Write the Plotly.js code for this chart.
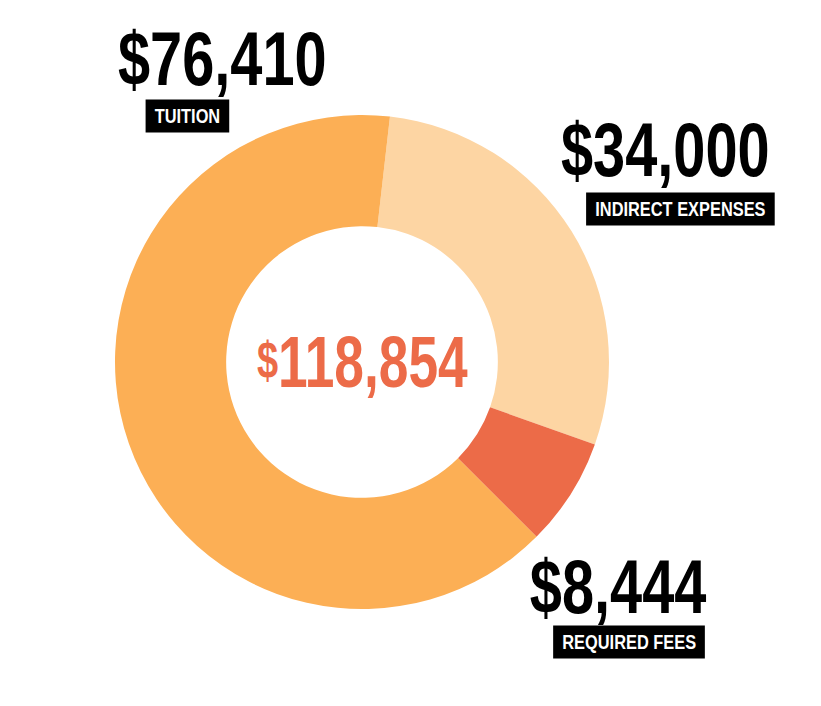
<!DOCTYPE html>
<html>
<head>
<meta charset="utf-8">
<script src="https://cdn.plot.ly/plotly-3.0.1.min.js"></script>
<style>
  html, body { margin: 0; padding: 0; background: #fff; }
  #chart { width: 821px; height: 706px; }
</style>
</head>
<body>
<div id="chart"></div>
<script>
// cost components (clockwise from just right of 12 o'clock)
var categories = ['INDIRECT EXPENSES', 'REQUIRED FEES', 'TUITION'];
var amounts = [34000, 8444, 76410];
var sliceColors = ['#FDD5A3', '#EC6B48', '#FCAF55'];

var W = 821, H = 706;
function px(x) { return x / W; }
function py(y) { return 1 - y / H; }
function money(v) { return '$' + v.toLocaleString('en-US'); }

var total = amounts.reduce(function (a, b) { return a + b; }, 0);

var cx = 362, cy = 362, r = 247;

var trace = {
  type: 'pie',
  labels: categories,
  values: amounts,
  marker: { colors: sliceColors, line: { width: 0 } },
  hole: 0.55,
  sort: false,
  direction: 'clockwise',
  rotation: 6.5,
  textinfo: 'none',
  hoverinfo: 'label+value',
  domain: { x: [px(cx - r), px(cx + r)], y: [py(cy + r), py(cy - r)] }
};

var face = 'Liberation Sans, Arial, sans-serif';
var bigFont = { family: face, size: 76, color: '#000' };
var tagFont = { family: face, size: 20, color: '#fff' };

// label placement in pixels: [value x, value y, tag x, tag y]
var spots = {
  'TUITION': [222, 58, 187, 116],
  'INDIRECT EXPENSES': [665, 150, 680, 209],
  'REQUIRED FEES': [618, 586, 629, 642]
};

// the reference face is a tall condensed grotesque; squeeze the text sideways
var squeeze = [];   // [centre x px, centre y px, scaleX] per annotation

var annotations = [];
categories.forEach(function (c, i) {
  var s = spots[c];
  annotations.push({
    xref: 'paper', yref: 'paper', x: px(s[0]), y: py(s[1]),
    xanchor: 'center', yanchor: 'middle', showarrow: false,
    text: '<b>' + money(amounts[i]) + '</b>', font: bigFont
  });
  squeeze.push([s[0], s[1], 0.76]);
  annotations.push({
    xref: 'paper', yref: 'paper', x: px(s[2]), y: py(s[3]),
    xanchor: 'center', yanchor: 'middle', showarrow: false,
    text: '<b>&nbsp;' + c + '&nbsp;</b>', font: tagFont,
    bgcolor: '#000', borderpad: 5
  });
  squeeze.push([s[2], s[3], 0.82]);
});

annotations.push({
  xref: 'paper', yref: 'paper', x: px(cx), y: py(cy),
  xanchor: 'center', yanchor: 'middle', showarrow: false,
  text: '<b><span style="font-size:52px;baseline-shift:9px">$</span>' + total.toLocaleString('en-US') + '</b>',
  font: { family: face, size: 73, color: '#EC6B48' }
});
squeeze.push([cx, cy, 0.73]);

var layout = {
  width: W, height: H,
  margin: { l: 0, r: 0, t: 0, b: 0 },
  paper_bgcolor: '#fff',
  showlegend: false,
  annotations: annotations
};

Plotly.newPlot('chart', [trace], layout, { displayModeBar: false, staticPlot: true }).then(function (gd) {
  var groups = gd.querySelectorAll('g.annotation');
  groups.forEach(function (g, i) {
    var q = squeeze[i];
    if (!q) return;
    g.setAttribute('transform',
      'translate(' + q[0] + ',' + q[1] + ') scale(' + q[2] + ',1) translate(' + (-q[0]) + ',' + (-q[1]) + ')');
  });
});
</script>
</body>
</html>
